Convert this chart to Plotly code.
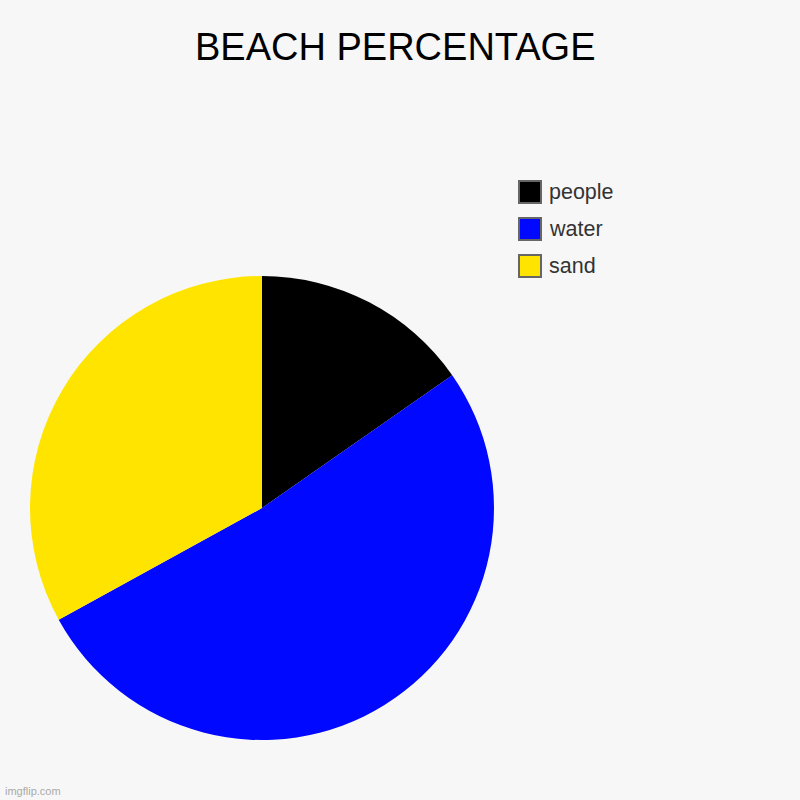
import plotly.graph_objects as go

labels = ["people", "water", "sand"]
values = [15.3, 51.7, 33.0]
colors = ["#000000", "#0008ff", "#ffe400"]
title_text = "BEACH PERCENTAGE"

W = H = 800
cx, cy, r = 262, 508, 232

fig = go.Figure()
fig.add_trace(go.Pie(
    labels=labels, values=values, sort=False, direction="clockwise", rotation=0,
    marker=dict(colors=colors, line=dict(width=0)),
    textinfo="none", hoverinfo="label+percent", showlegend=False,
    domain=dict(x=[(cx - r) / W, (cx + r) / W], y=[1 - (cy + r) / H, 1 - (cy - r) / H]),
))

shapes = []
annotations = []
lx, ly0, step, sq = 519, 192, 37, 22
for i, (lab, col) in enumerate(zip(labels, colors)):
    yc = ly0 + i * step
    shapes.append(dict(type="rect", xref="paper", yref="paper",
                       x0=lx / W, x1=(lx + sq) / W,
                       y0=1 - (yc + sq / 2) / H, y1=1 - (yc - sq / 2) / H,
                       fillcolor=col, line=dict(color="#666666", width=2)))
    annotations.append(dict(text=lab, xref="paper", yref="paper",
                            x=(lx + sq + 6) / W, y=1 - yc / H,
                            xanchor="left", yanchor="middle", showarrow=False,
                            font=dict(size=21.5, color="#333333", family="Liberation Sans, Arial")))

annotations.append(dict(text=title_text, xref="paper", yref="paper",
                        x=394.5 / W, y=1 - 47 / H, xanchor="center", yanchor="middle",
                        showarrow=False,
                        font=dict(size=38, color="#000000", family="Liberation Sans, Arial")))
annotations.append(dict(text="imgflip.com", xref="paper", yref="paper",
                        x=3 / W, y=1 - 791 / H, xanchor="left", yanchor="middle",
                        showarrow=False,
                        font=dict(size=11, color="#aaaaaa", family="Liberation Sans, Arial")))

fig.update_layout(
    width=W, height=H, margin=dict(l=0, r=0, t=0, b=0),
    paper_bgcolor="#f7f7f7", plot_bgcolor="#f7f7f7",
    shapes=shapes, annotations=annotations,
)

fig.write_html("out.html", config={"displayModeBar": False},
               post_script="document.body.style.margin='0';document.body.style.overflow='hidden';")
